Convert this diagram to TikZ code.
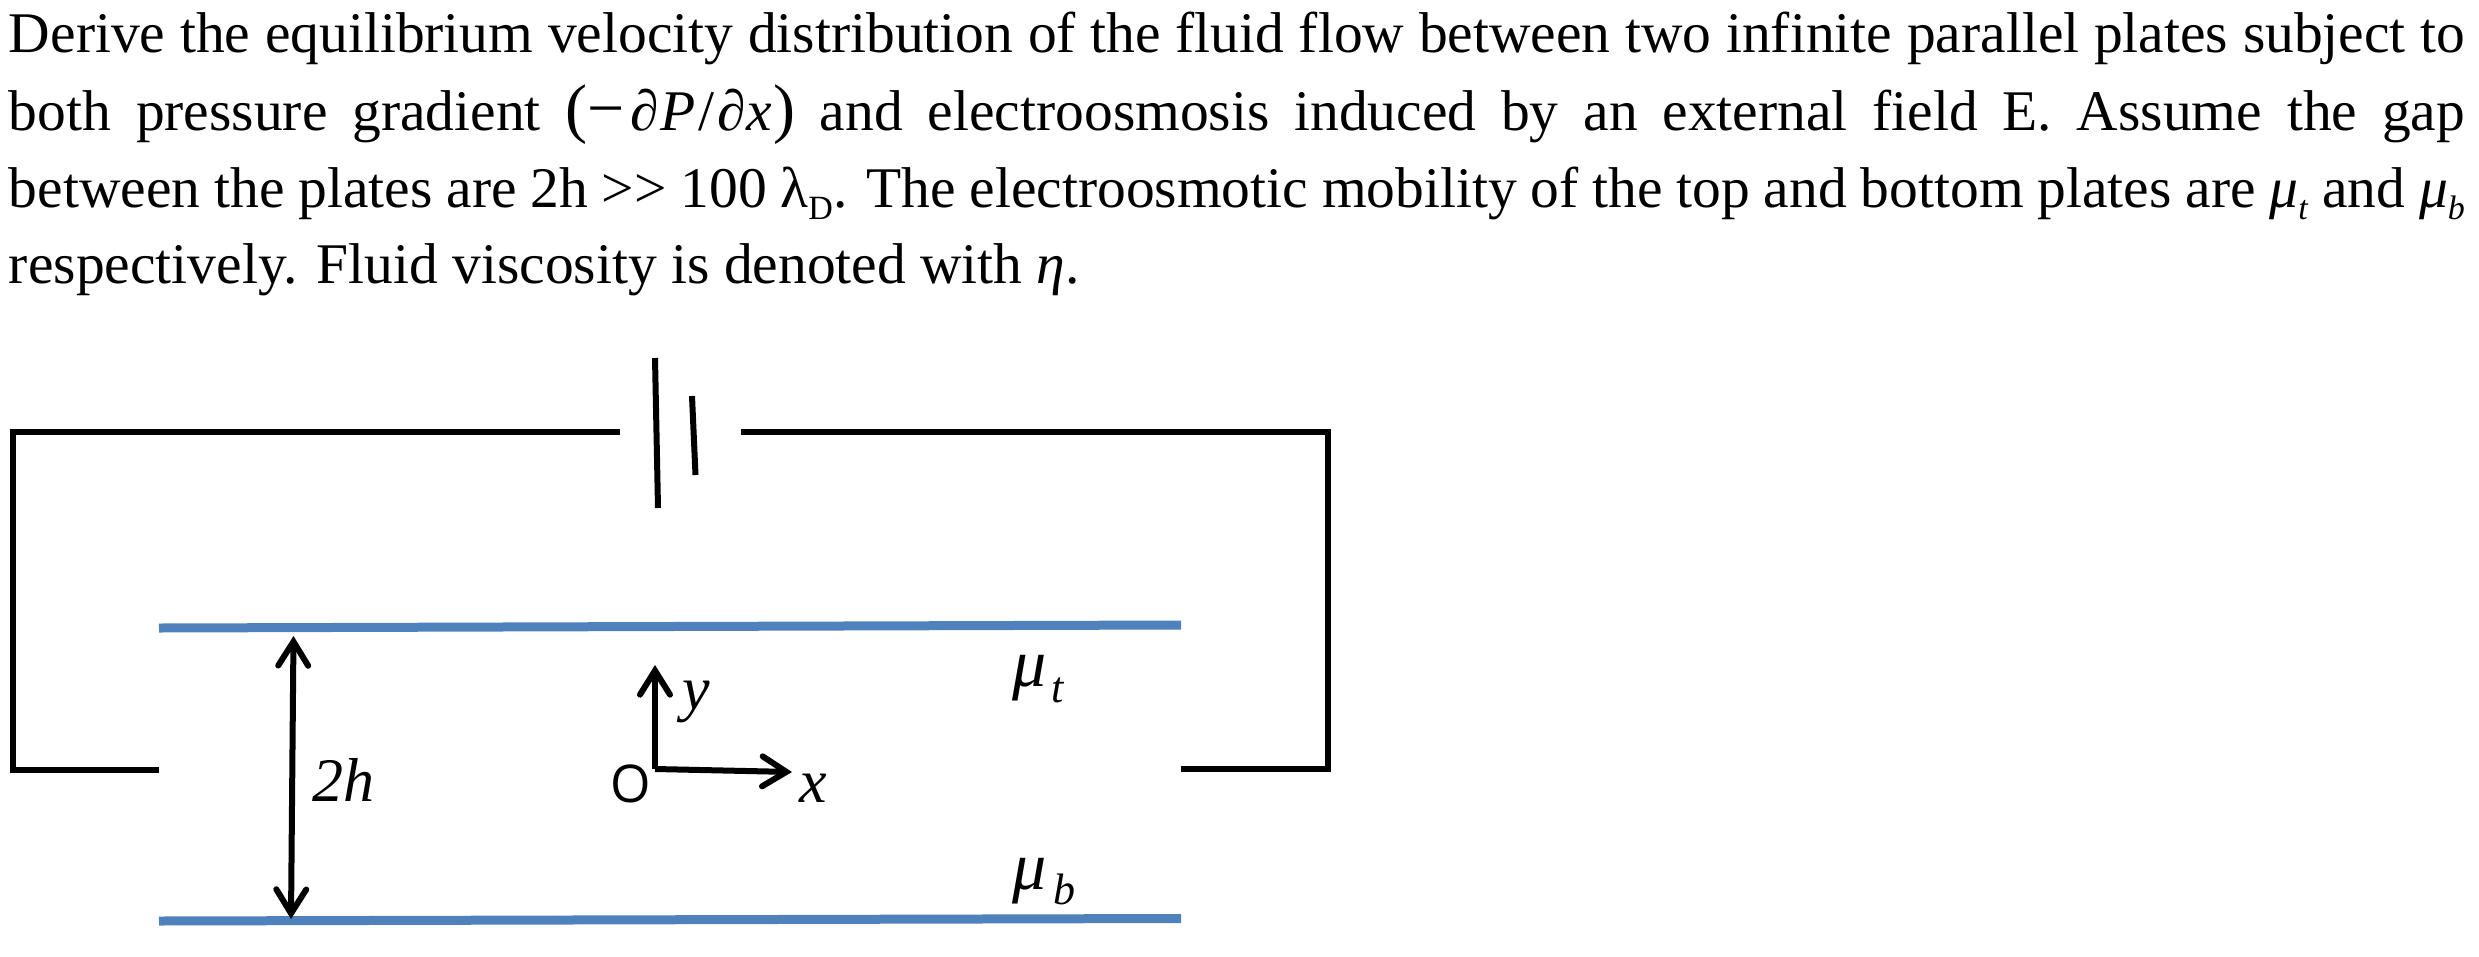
\documentclass[tikz,border=0pt]{standalone}
\usepackage{fontspec}
\setmainfont{Liberation Serif}
\newfontfamily\osans{Open Sans}
\usetikzlibrary{arrows.meta}
\definecolor{plateblue}{HTML}{4F81BD}
\newcommand{\itx}[1]{\textit{#1}}
\newcommand{\subsc}[1]{\raisebox{-0.22em}{\fontsize{34}{34}\selectfont #1}}
\newcommand{\jline}[1]{\hbox to 2456pt{#1}}
\newcommand{\bigp}[1]{{\fontsize{66}{66}\selectfont #1}}
\tikzset{
  wire/.style={line width=6pt,draw=black,line cap=butt,line join=miter},
  plate/.style={line width=9pt,draw=plateblue},
  battplate/.style={line width=6pt,draw=black},
  axisarrow/.style={line width=6pt,draw=black,-{Straight Barb[length=24pt,width=30pt,line cap=round]}},
  dimarrow/.style={line width=6pt,draw=black,{Straight Barb[length=24pt,width=30pt,line cap=round]}-{Straight Barb[length=24pt,width=30pt,line cap=round]}},
  para/.style={anchor=base west,inner sep=0pt,outer sep=0pt,font=\fontsize{57.5}{60}\selectfont},
  lab/.style={anchor=base,inner sep=0pt,outer sep=0pt,font=\fontsize{62}{66}\selectfont\itshape},
  mulab/.style={anchor=base,inner sep=0pt,outer sep=0pt,font=\fontsize{68}{70}\selectfont\itshape},
  sublab/.style={anchor=base west,inner sep=0pt,outer sep=0pt,font=\fontsize{44}{48}\selectfont\itshape}
}
\begin{document}
\begin{tikzpicture}[x=1pt,y=-1pt]
\useasboundingbox (0,0) rectangle (2479,956);
% paragraph
\node[para] (l1) at (9,52) {\jline{Derive the equilibrium velocity distribution of the fluid flow between two infinite parallel plates subject to}};
\node[para] (l2) at (9,130) {\jline{both pressure gradient \bigp{(}\bigp{−}\kern6pt∂\kern1pt\itx{P}\kern3pt/\kern3pt∂\kern1pt\itx{x}\kern1pt\bigp{)} and electroosmosis induced by an external field E. Assume the gap}};
\node[para] (l3) at (9,207) {\jline{between the plates are 2h {>}{>} 100 λ\subsc{D}. The electroosmotic mobility of the top and bottom plates are \itx{μ}\subsc{\itx{t}} and \itx{μ}\subsc{\itx{b}}}};
\node[para] (l4) at (9,283) {respectively. Fluid viscosity is denoted with \itx{η}.};
% circuit
\coordinate (wl1) at (620,432);
\coordinate (wl2) at (13,432);
\coordinate (wl3) at (13,770);
\coordinate (wl4) at (159,770);
\coordinate (wr1) at (741,432);
\coordinate (wr2) at (1328,432);
\coordinate (wr3) at (1328,769);
\coordinate (wr4) at (1181,769);
\draw[wire] (wl1) -- (wl2) -- (wl3) -- (wl4);
\draw[wire] (wr1) -- (wr2) -- (wr3) -- (wr4);
% battery
\coordinate (b1a) at (655,358);
\coordinate (b1b) at (658,508);
\coordinate (b2a) at (692,396);
\coordinate (b2b) at (695.5,475);
\draw[battplate] (b1a) -- (b1b);
\draw[battplate] (b2a) -- (b2b);
% plates
\coordinate (pt1) at (159,628);
\coordinate (pt2) at (1181,625);
\coordinate (pb1) at (159,921);
\coordinate (pb2) at (1181,918.5);
\draw[plate] (pt1) -- (pt2);
\draw[plate] (pb1) -- (pb2);
% gap arrow
\coordinate (g1) at (293.5,636);
\coordinate (g2) at (291,919);
\draw[dimarrow] (g1) -- (g2);
\node[lab] (lh) at (343,801) {2h};
% axes
\coordinate (o) at (655,769);
\coordinate (oy) at (655,665);
\coordinate (ox) at (792,772);
\draw[axisarrow] (o) -- (oy);
\draw[axisarrow] (o) -- (ox);
\node[anchor=base,inner sep=0pt,font=\osans\fontsize{52}{54}\selectfont] (lo) at (631,802) {O};
\node[lab] (ly) at (696,709) {y};
\node[lab] (lx) at (813,802) {x};
% mobilities
\node[mulab] (mut) at (1030,686) {μ};
\node[sublab] (subt) at (1051,702) {t};
\node[mulab] (mub) at (1030,889) {μ};
\node[sublab] (subb) at (1053,904) {b};
\end{tikzpicture}
\end{document}
